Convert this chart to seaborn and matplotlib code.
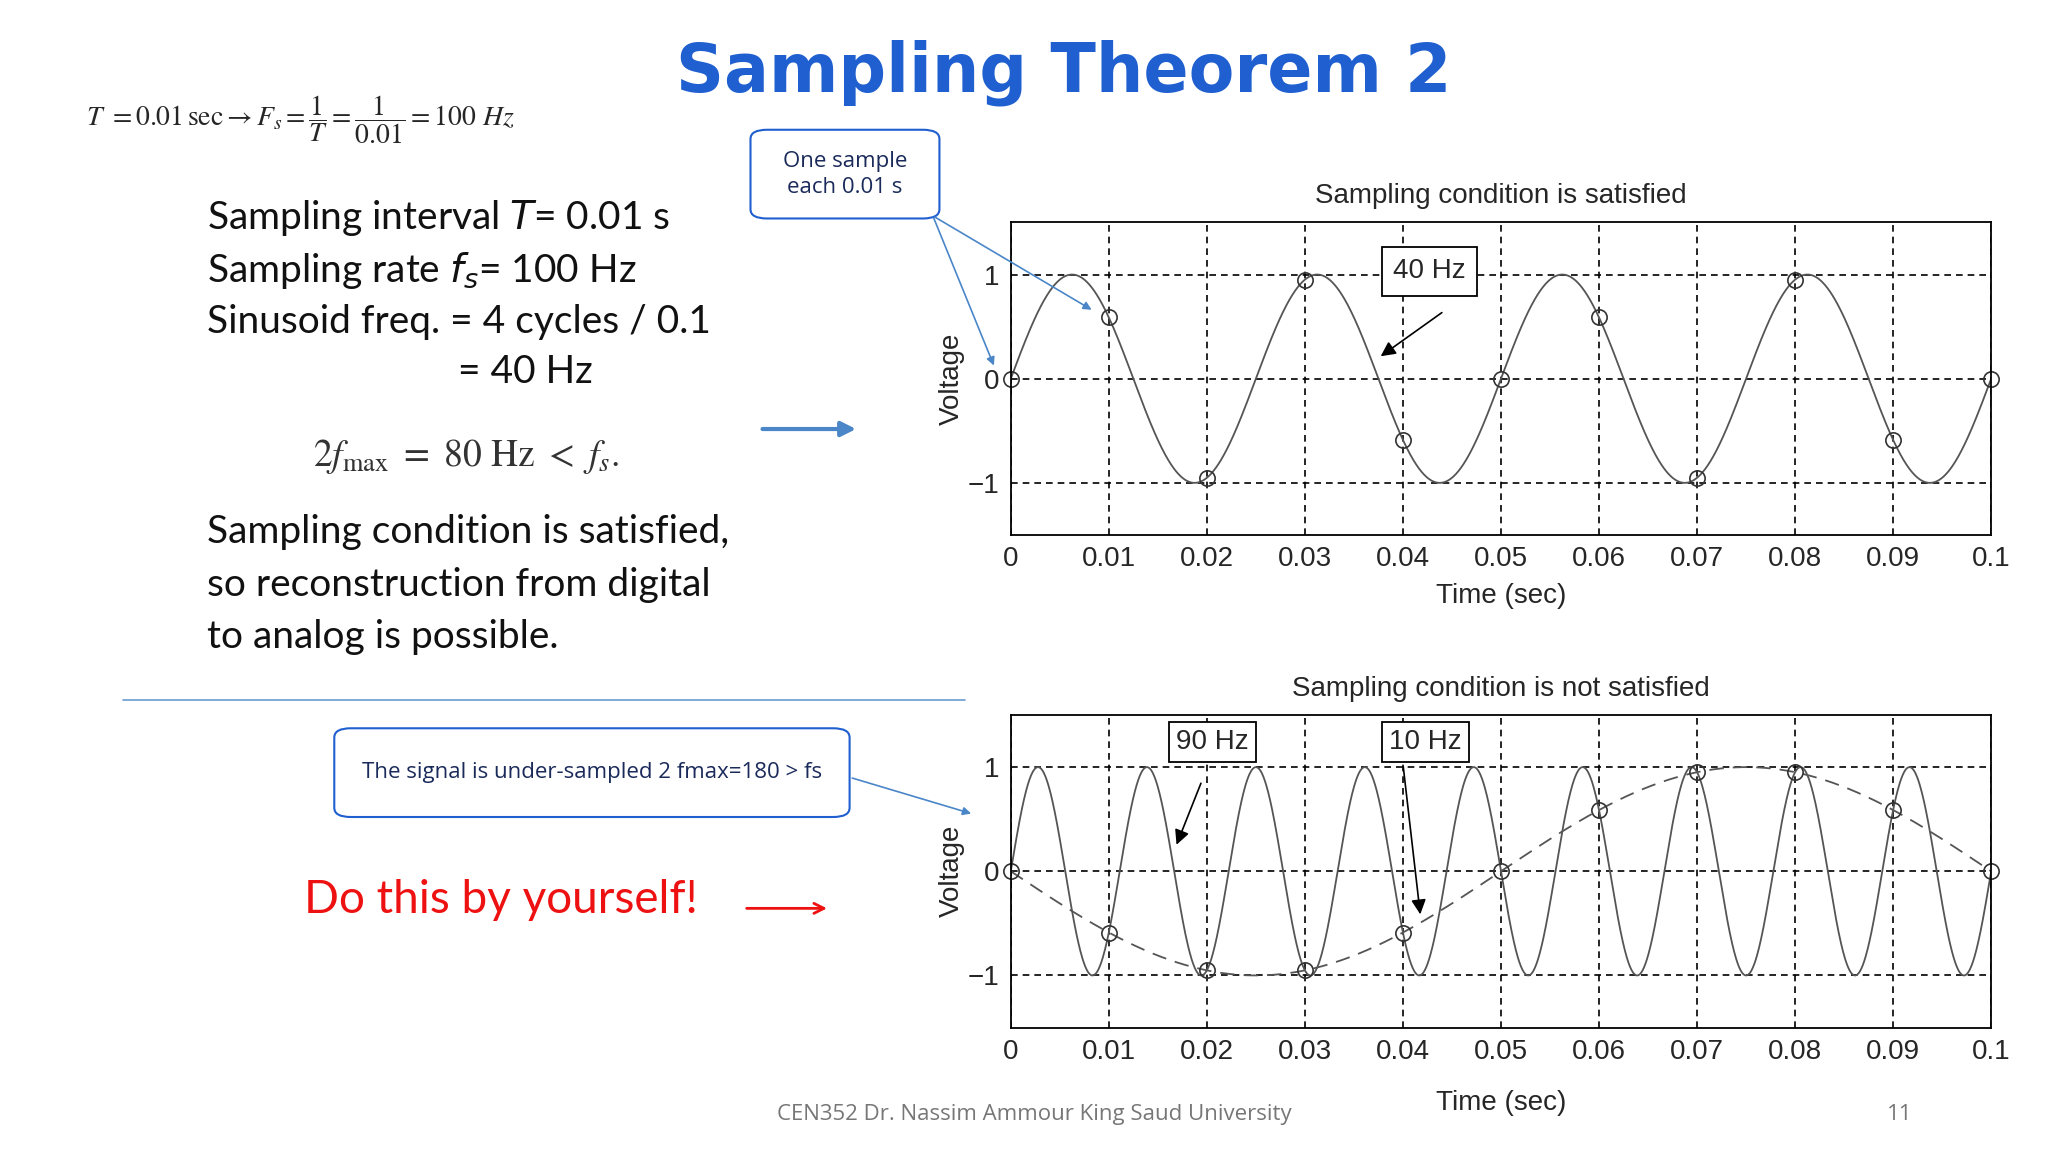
import numpy as np
import matplotlib
matplotlib.use("Agg")
import matplotlib.pyplot as plt
import seaborn as sns
from matplotlib.patches import FancyBboxPatch

sns.set_theme(style="white")

# ---- data ----
sample_times = [0, 0.01, 0.02, 0.03, 0.04, 0.05, 0.06, 0.07, 0.08, 0.09, 0.1]
top_samples = [0, 0.59, -0.95, 0.95, -0.59, 0, 0.59, -0.95, 0.95, -0.59, 0]
bottom_samples = [0, -0.59, -0.95, -0.95, -0.59, 0, 0.59, 0.95, 0.95, 0.59, 0]
top_freq_hz = 40
fast_freq_hz = 90
alias_freq_hz = 10
x_ticks = [0, 0.01, 0.02, 0.03, 0.04, 0.05, 0.06, 0.07, 0.08, 0.09, 0.1]
x_tick_labels = ["0", "0.01", "0.02", "0.03", "0.04", "0.05", "0.06", "0.07", "0.08", "0.09", "0.1"]
y_ticks = [-1, 0, 1]
y_tick_labels = ["\u22121", "0", "1"]

t = np.linspace(0, 0.1, 2000)
curve_top = np.sin(2 * np.pi * top_freq_hz * t)
curve_fast = np.sin(2 * np.pi * fast_freq_hz * t)
curve_alias = -np.sin(2 * np.pi * alias_freq_hz * t)

fig = plt.figure(figsize=(20.48, 11.52), dpi=100)
fig.patch.set_facecolor("white")

W, H = 1550.0, 870.0
def fx(px): return px / W
def fy(py): return 1 - py / H

PF = "Liberation Sans"
SF = "Lato"

def style_ax(ax, title):
    ax.set_xlim(0, 0.1)
    ax.set_ylim(-1.5, 1.5)
    ax.set_xticks(x_ticks)
    ax.set_xticklabels(x_tick_labels, fontsize=20, fontfamily=PF)
    ax.set_yticks(y_ticks)
    ax.set_yticklabels(y_tick_labels, fontsize=20, fontfamily=PF)
    ax.grid(True, color="black", linestyle=(0, (4, 3)), linewidth=1.2)
    for s in ax.spines.values():
        s.set_color("black"); s.set_linewidth(1.3)
    ax.set_ylabel("Voltage", fontsize=20, fontfamily=PF, labelpad=2)
    ax.set_title(title, fontsize=20, fontfamily=PF, pad=14)
    ax.tick_params(axis="both", length=0, pad=8)

# top plot
ax1 = fig.add_axes([fx(765), fy(404), fx(1507) - fx(765), fy(168) - fy(404)])
sns.lineplot(x=t, y=curve_top, ax=ax1, color="#555555", linewidth=1.3)
ax1.plot(sample_times, top_samples, "o", mfc="none", mec="#333333", ms=11, mew=1.2, clip_on=False)
style_ax(ax1, "Sampling condition is satisfied")
ax1.set_xlabel("Time (sec)", fontsize=20, fontfamily=PF, labelpad=8)
ax1.text(0.0427, 1.03, "40 Hz", fontsize=20, fontfamily=PF, ha="center", va="center",
         bbox=dict(boxstyle="square,pad=0.4", fc="white", ec="black", lw=1.3))
ax1.annotate("", xy=(0.0375, 0.2), xytext=(0.0442, 0.65),
             arrowprops=dict(arrowstyle="-|>", color="black", lw=1.2, mutation_scale=22))

# bottom plot
ax2 = fig.add_axes([fx(765), fy(776), fx(1507) - fx(765), fy(540) - fy(776)])
sns.lineplot(x=t, y=curve_fast, ax=ax2, color="#555555", linewidth=1.3)
ax2.plot(t, curve_alias, color="#555555", linewidth=1.3, linestyle=(0, (8, 5)))
ax2.plot(sample_times, bottom_samples, "o", mfc="none", mec="#333333", ms=11, mew=1.2, clip_on=False)
style_ax(ax2, "Sampling condition is not satisfied")
ax2.set_xlabel("Time (sec)", fontsize=20, fontfamily=PF, labelpad=18)
for xx, lab in [(0.0206, "90 Hz"), (0.0423, "10 Hz")]:
    ax2.text(xx, 1.24, lab, fontsize=20, fontfamily=PF, ha="center", va="center",
             bbox=dict(boxstyle="square,pad=0.25", fc="white", ec="black", lw=1.3))
ax2.annotate("", xy=(0.0168, 0.23), xytext=(0.0195, 0.87),
             arrowprops=dict(arrowstyle="-|>", color="black", lw=1.2, mutation_scale=22))
ax2.annotate("", xy=(0.0418, -0.44), xytext=(0.0400, 1.03),
             arrowprops=dict(arrowstyle="-|>", color="black", lw=1.2, mutation_scale=22))

# slide text
fig.text(fx(805), fy(55), "Sampling Theorem 2", fontsize=48, fontweight="bold",
         color="#1F5FCF", ha="center", va="center", fontfamily="DejaVu Sans")
fig.text(fx(65), fy(90), r"$T\ =0.01\,\mathrm{sec}\rightarrow F_s=\dfrac{1}{T}=\dfrac{1}{0.01}=100\ Hz$",
         fontsize=20, ha="left", va="center", math_fontfamily="stix")
body = [(157, 165, r"Sampling interval $T$= 0.01 s"),
        (157, 204, r"Sampling rate $f_s$= 100 Hz"),
        (157, 243, "Sinusoid freq. = 4 cycles / 0.1"),
        (347, 281, "= 40 Hz"),
        (157, 402, "Sampling condition is satisfied,"),
        (157, 442, "so reconstruction from digital"),
        (157, 481, "to analog is possible.")]
for x, y, s in body:
    fig.text(fx(x), fy(y), s, fontsize=28, fontfamily=SF, ha="left", va="center", color="#111111")
fig.text(fx(237), fy(345), r"$2f_{\max}\ =\ 80\ \mathrm{Hz}\ <\ f_s.$", fontsize=27,
         ha="left", va="center", math_fontfamily="stix", color="#333333")
fig.text(fx(230), fy(680), "Do this by yourself!", fontsize=33, fontfamily=SF, color="#EE1111",
         ha="left", va="center")

def farrow(x0, y0, x1, y1, color, lw, ms=20, style="-|>"):
    fig.add_artist(matplotlib.patches.FancyArrowPatch((fx(x0), fy(y0)), (fx(x1), fy(y1)),
                   transform=fig.transFigure, arrowstyle=style, color=color, lw=lw,
                   mutation_scale=ms))

farrow(575, 324, 650, 324, "#4A86C8", 3, 22)
farrow(563, 686, 628, 686, "#EE1111", 2, 18, "->")
fig.add_artist(plt.Line2D([fx(93), fx(730)], [fy(529), fy(529)], transform=fig.transFigure,
                          color="#6A9BD1", lw=1.2))

def callout(x0, y0, x1, y1, text, fs):
    fig.add_artist(FancyBboxPatch((fx(x0), fy(y1)), fx(x1) - fx(x0), fy(y0) - fy(y1),
                   boxstyle="round,pad=0,rounding_size=0.008", transform=fig.transFigure,
                   fc="white", ec="#1F5FCF", lw=1.5))
    fig.text((fx(x0) + fx(x1)) / 2, (fy(y0) + fy(y1)) / 2, text, fontsize=fs, fontfamily="Open Sans",
             ha="center", va="center", color="#1A2A5A", linespacing=1.3)

callout(568, 98, 711, 165, "One sample\neach 0.01 s", 16)
farrow(706, 163, 828, 235, "#4A86C8", 1.2, 12)
farrow(706, 163, 753, 278, "#4A86C8", 1.2, 12)
callout(253, 550, 643, 617, "The signal is under-sampled 2 fmax=180 > fs", 16)
farrow(643, 587, 737, 615, "#4A86C8", 1.2, 12)

fig.text(fx(783), fy(842), "CEN352 Dr. Nassim Ammour King Saud University", fontsize=16,
         fontfamily="Open Sans", color="#777777", ha="center", va="center")
fig.text(fx(1438), fy(842), "11", fontsize=16, fontfamily="Open Sans", color="#777777",
         ha="center", va="center")

fig.savefig("out.png", dpi=100, facecolor="white")
